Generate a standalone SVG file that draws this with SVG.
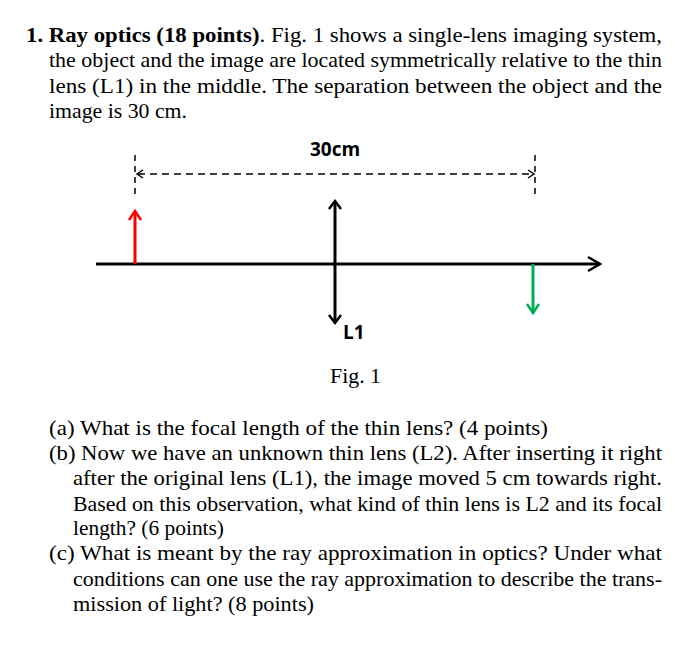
<svg xmlns="http://www.w3.org/2000/svg" width="692" height="646" viewBox="0 0 692 646">
<style>
.t{font-family:"Liberation Serif",serif;font-size:21.5px;fill:#000}
.b{font-family:"Open Sans","DejaVu Sans",sans-serif;font-weight:bold;font-size:19px;fill:#000}
.ln{stroke-width:3;fill:none}
.hd{stroke-width:2.5;fill:none}
</style>
<rect width="692" height="646" fill="#fff"/>
<g id="text">
<text class="t" x="26" y="42" textLength="636" lengthAdjust="spacingAndGlyphs"><tspan font-weight="bold">1. Ray optics (18 points)</tspan>. Fig. 1 shows a single-lens imaging system,</text>
<text class="t" x="49" y="67" textLength="613" lengthAdjust="spacingAndGlyphs">the object and the image are located symmetrically relative to the thin</text>
<text class="t" x="49" y="93" textLength="613" lengthAdjust="spacingAndGlyphs">lens (L1) in the middle. The separation between the object and the</text>
<text class="t" x="49" y="118" textLength="138" lengthAdjust="spacingAndGlyphs">image is 30 cm.</text>
<text class="t" x="330" y="383" textLength="51" lengthAdjust="spacingAndGlyphs">Fig. 1</text>
<text class="t" x="49" y="435" textLength="499" lengthAdjust="spacingAndGlyphs">(a) What is the focal length of the thin lens? (4 points)</text>
<text class="t" x="49" y="460" textLength="613" lengthAdjust="spacingAndGlyphs">(b) Now we have an unknown thin lens (L2). After inserting it right</text>
<text class="t" x="73" y="485" textLength="589" lengthAdjust="spacingAndGlyphs">after the original lens (L1), the image moved 5 cm towards right.</text>
<text class="t" x="73" y="511" textLength="589" lengthAdjust="spacingAndGlyphs">Based on this observation, what kind of thin lens is L2 and its focal</text>
<text class="t" x="73" y="535" textLength="151" lengthAdjust="spacingAndGlyphs">length? (6 points)</text>
<text class="t" x="49" y="560" textLength="613" lengthAdjust="spacingAndGlyphs">(c) What is meant by the ray approximation in optics? Under what</text>
<text class="t" x="73" y="586" textLength="589" lengthAdjust="spacingAndGlyphs">conditions can one use the ray approximation to describe the trans-</text>
<text class="t" x="73" y="611" textLength="241" lengthAdjust="spacingAndGlyphs">mission of light? (8 points)</text>
</g>
<g id="dimension">
<line x1="135" y1="155" x2="135" y2="197" stroke="#000" stroke-width="1.5" stroke-dasharray="6,5"/>
<line x1="535" y1="155" x2="535" y2="197" stroke="#000" stroke-width="1.5" stroke-dasharray="6,5"/>
<line x1="138" y1="174" x2="533" y2="174" stroke="#000" stroke-width="1.5" stroke-dasharray="7,5"/>
<polyline points="143,170 137,174 143,178" stroke="#000" stroke-width="1.5" fill="none"/>
<polyline points="528,170 534,174 528,178" stroke="#000" stroke-width="1.5" fill="none"/>
<text class="b" x="335" y="156" text-anchor="middle">30cm</text>
</g>
<g id="axis" stroke="#000">
<line class="ln" x1="96" y1="264" x2="600" y2="264"/>
<polyline class="hd" points="588,257 600,264 588,271"/>
</g>
<g id="object" stroke="#ff0000">
<line class="ln" x1="135" y1="264" x2="135" y2="211"/>
<polyline class="hd" points="129,220 135,211 141,220"/>
</g>
<g id="lens" stroke="#000">
<line class="ln" x1="335" y1="201" x2="335" y2="323"/>
<polyline class="hd" points="329,209 335,201 341,209"/>
<polyline class="hd" points="329,315 335,323 341,315"/>
<text class="b" x="343" y="339" stroke="none">L1</text>
</g>
<g id="image" stroke="#00b050">
<line class="ln" x1="533" y1="264" x2="533" y2="313"/>
<polyline class="hd" points="527,304 533,313 539,304"/>
</g>
</svg>
